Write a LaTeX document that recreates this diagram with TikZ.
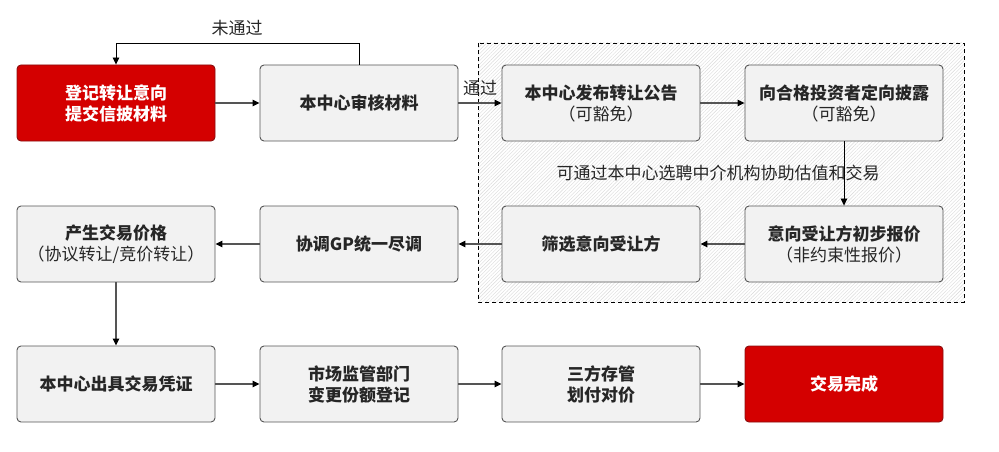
\documentclass[tikz,border=0pt]{standalone}
\usepackage{fontspec}
\setmainfont{Noto Sans CJK SC}
\usetikzlibrary{arrows.meta,patterns.meta}
\definecolor{boxfill}{HTML}{F2F2F2}
\definecolor{boxline}{HTML}{555555}
\definecolor{redc}{HTML}{D40000}
\definecolor{redline}{HTML}{8A1010}
\definecolor{textc}{HTML}{262626}
\definecolor{arrc}{HTML}{555555}
\tikzset{
  box/.style={draw=boxline, line width=0.9pt, fill=boxfill, rounded corners=4pt,
    minimum width=198pt, minimum height=76pt, align=center,
    font=\fontsize{17}{21}\selectfont, text=textc, inner sep=2pt},
  redbox/.style={box, fill=redc, draw=redline, text=white},
  arr/.style={draw=arrc, line width=1.1pt, -{Triangle[length=7pt,width=6.5pt,color=black]}},
  thinarr/.style={draw=black, line width=0.8pt, -{Triangle[length=7pt,width=6.5pt]}},
  lbl/.style={font=\fontsize{17}{20}\selectfont, text=textc, inner sep=0pt},
  zone/.style={draw=black, line width=0.8pt, dash pattern=on 4pt off 3pt},
}
\begin{document}
\begin{tikzpicture}[x=1pt,y=-1pt]
\useasboundingbox (0,0) rectangle (999,452);
% dashed zone with hatch
\path[fill=white] (478,43) rectangle (964,302);
\path[pattern={Lines[angle=45,distance=2.5pt,line width=0.4pt]}, pattern color=gray!30] (478,43) rectangle (964,302);
\draw[zone] (478,43) rectangle (964,302);

% row 1
\node[redbox] (n1) at (116,103) {\bfseries 登记转让意向\\\bfseries 提交信披材料};
\node[box] (n2) at (359,103) {\bfseries 本中心审核材料};
\node[box] (n3) at (601,103) {\bfseries 本中心发布转让公告\\（可豁免）};
\node[box] (n4) at (844,103) {\bfseries 向合格投资者定向披露\\（可豁免）};
% row 2
\node[box] (m1) at (116,244) {\bfseries 产生交易价格\\（协议转让/竞价转让）};
\node[box] (m2) at (359,244) {\bfseries 协调GP统一尽调};
\node[box] (m3) at (601,244) {\bfseries 筛选意向受让方};
\node[box] (m4) at (844,244) {\bfseries 意向受让方初步报价\\（非约束性报价）};
% row 3
\node[box] (b1) at (116,384) {\bfseries 本中心出具交易凭证};
\node[box] (b2) at (359,384) {\bfseries 市场监管部门\\\bfseries 变更份额登记};
\node[box] (b3) at (601,384) {\bfseries 三方存管\\\bfseries 划付对价};
\node[redbox] (b4) at (844,384) {\bfseries 交易完成};

% connectors
\draw[arr] (n1) -- (n2);
\draw[arr] (n2) -- (n3);
\node[lbl] (pass) at (480,88) {通过};
\draw[arr] (n3) -- (n4);
\draw[thinarr] (n4) -- (m4);
\node[lbl] (mid) at (718,173) {可通过本中心选聘中介机构协助估值和交易};
\draw[arr] (m4) -- (m3);
\draw[arr] (m3) -- (m2);
\draw[arr] (m2) -- (m1);
\draw[arr] (m1) -- (b1);
\draw[arr] (b1) -- (b2);
\draw[arr] (b2) -- (b3);
\draw[arr] (b3) -- (b4);
\coordinate (loopA) at (359,43);
\draw[thinarr] (n2.north) -- (loopA) -| (n1.north);
\node[lbl] (fail) at (237,28) {未通过};
\end{tikzpicture}
\end{document}
